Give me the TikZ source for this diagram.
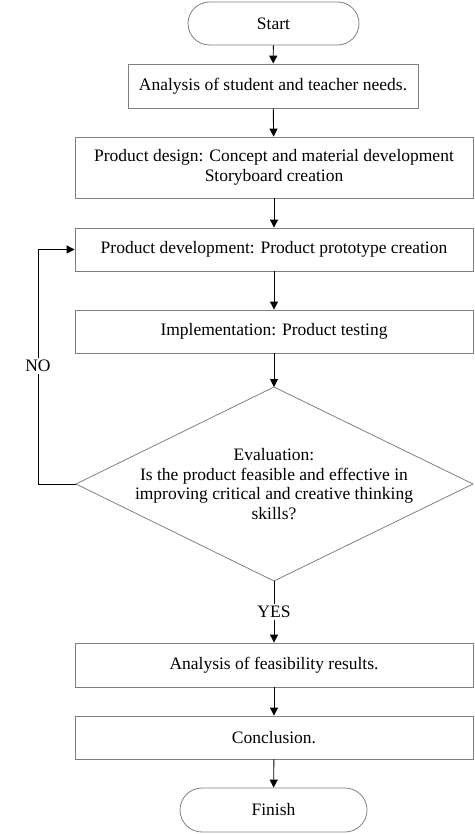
\documentclass[tikz,border=0pt]{standalone}
\usepackage{fontspec}
\setmainfont{Liberation Serif}
\usetikzlibrary{shapes.misc,arrows.meta}

\begin{document}
\begin{tikzpicture}
  [x=1pt,y=-1pt,
   every node/.style={font=\fontsize{17.5}{19.5}\selectfont,align=center,inner sep=0pt},
   box/.style={rectangle,draw=gray,line width=0.8pt,minimum width=398pt,minimum height=43pt},
   term/.style={rounded rectangle,draw=gray,line width=0.8pt,minimum height=43pt},
   label/.style={fill=white,inner sep=2pt},
   flow/.style={-{Triangle[length=8pt,width=8pt]},black,line width=0.9pt}]
  \useasboundingbox (0,0) rectangle (474,834);

  \node[term,minimum width=171pt] (start) at (273.5,23.5) {Start};
  \node[box,minimum width=290pt,minimum height=44pt] (needs) at (273,86) {Analysis of student and teacher needs.};
  \node[box,minimum height=61pt] (design) at (274,167.5) {Product design: Concept and material development\\Storyboard creation};
  \node[box] (develop) at (274,249.5) {Product development: Product prototype creation};
  \node[box] (test) at (274,331.5) {Implementation: Product testing};

  % decision
  \coordinate (evtop) at (274,387);
  \coordinate (evright) at (473,484);
  \coordinate (evbot) at (274,581);
  \coordinate (evleft) at (76,484);
  \draw[gray,line width=0.8pt] (evtop) -- (evright) -- (evbot) -- (evleft) -- cycle;
  \node (eval) at (274,484)
    {Evaluation:\\Is the product feasible and effective in\\improving critical and creative thinking\\skills?};

  \node[label] (yes) at (274,612) {YES};
  \node[box,minimum height=44pt] (results) at (274,665) {Analysis of feasibility results.};
  \node[box] (concl) at (274,737.5) {Conclusion.};
  \node[term,minimum width=187pt,minimum height=44pt] (finish) at (273.5,810) {Finish};
  \node[label] (no) at (38,366) {NO};

  \draw[flow] (start) -- (needs);
  \draw[flow] (needs) -- (design);
  \draw[flow] (design) -- (develop);
  \draw[flow] (develop) -- (test);
  \draw[flow] (test) -- (evtop);
  \draw[black,line width=0.9pt] (evbot) -- (yes);
  \draw[flow] (yes) -- (results);
  \draw[flow] (results) -- (concl);
  \draw[flow] (concl) -- (finish);

  \draw[black,line width=0.9pt] (evleft) -| (no);
  \draw[flow] (no) |- (develop.west);
\end{tikzpicture}
\end{document}
